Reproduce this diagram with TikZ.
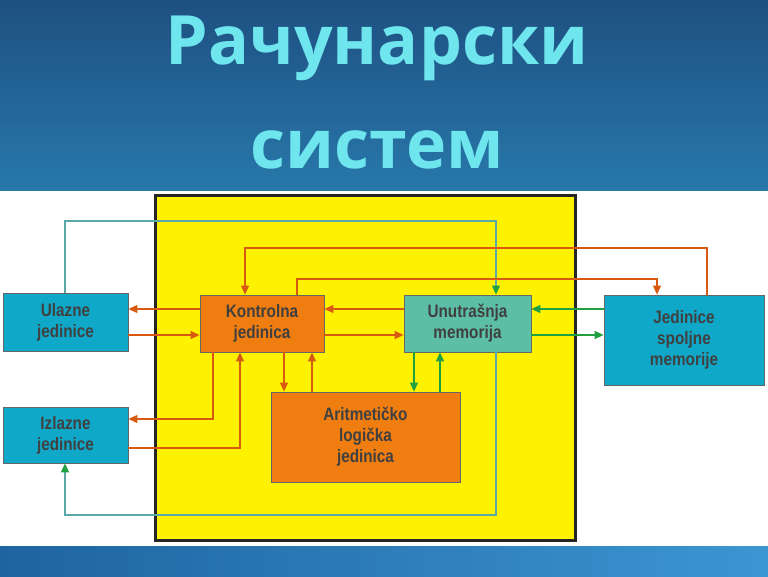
\documentclass[tikz,border=0pt]{standalone}
\usepackage{fontspec}
\setmainfont{Liberation Sans}
\newfontfamily\boxfont[FakeStretch=0.85,UprightFont=*-Bold]{LiberationSans}
\newfontfamily\titlefont{Open Sans}
\usetikzlibrary{arrows.meta}
\definecolor{cbox}{HTML}{10A8C8}
\definecolor{mbox}{HTML}{5CBFA5}
\definecolor{obox}{HTML}{F07D10}
\definecolor{oline}{HTML}{D85A10}
\definecolor{gline}{HTML}{20A040}
\definecolor{tline}{HTML}{5AA8A8}
\definecolor{ttl}{HTML}{6FE6EE}
\definecolor{bgA}{RGB}{30,80,130}
\definecolor{bgB}{RGB}{40,120,170}
\definecolor{bgC}{RGB}{30,100,160}
\definecolor{bgD}{RGB}{60,150,210}
\begin{document}
\begin{tikzpicture}[x=1pt,y=-1pt,
  bx/.style={draw=black!60,line width=0.8pt,font=\boxfont\fontsize{18}{21}\selectfont,text=black!75,align=center,inner sep=0pt},
  oa/.style={draw=oline,line width=1.1pt,-{Triangle[width=8pt,length=9pt]}},
  ga/.style={draw=gline,line width=1.1pt,-{Triangle[width=8pt,length=9pt]}},
  ta/.style={draw=tline,line width=1.1pt,-{Triangle[width=8pt,length=9pt,fill=gline,color=gline]}},
  tt/.style={font=\titlefont\bfseries\fontsize{68}{68}\selectfont,text=ttl}]
\useasboundingbox (0,0) rectangle (768,576);
\shade[top color=bgA,bottom color=bgB] (0,0) rectangle (768,190);
\shade[left color=bgC,right color=bgD] (0,546) rectangle (768,576);
\node[tt] (t1) at (377,48) {Рачунарски};
\node[tt] (t2) at (377,150) {систем};
\draw[fill=yellow,line width=3pt,draw=black!85] (155,195) rectangle (575,540);
\node[bx,fill=cbox,minimum width=125,minimum height=58] (ul) at (65.5,322) {Ulazne\\jedinice};
\node[bx,fill=cbox,minimum width=125,minimum height=56] (iz) at (65.5,435) {Izlazne\\jedinice};
\node[bx,fill=obox,minimum width=124,minimum height=57] (ko) at (262,323.5) {Kontrolna\\jedinica};
\node[bx,fill=mbox,minimum width=127,minimum height=57] (un) at (467.5,323.5) {Unutrašnja\\memorija};
\node[bx,fill=cbox,minimum width=160,minimum height=90] (je) at (684,340) {Jedinice\\spoljne\\memorije};
\node[bx,fill=obox,minimum width=189,minimum height=90] (al) at (365.5,437) {Aritmetičko\\logička\\jedinica};
\draw[ta] (ul.north -| 65,0) -- (65,221) -- (496,221) -- (un.north -| 496,0);
\draw[oa] (je.north -| 707,0) -- (707,248) -- (245,248) -- (ko.north -| 245,0);
\draw[oa] (ko.north -| 297,0) -- (297,279) -- (657,279) -- (je.north -| 657,0);
\draw[oa] (ko.west |- 0,309) -- (ul.east |- 0,309);
\draw[oa] (ul.east |- 0,335) -- (ko.west |- 0,335);
\draw[oa] (un.west |- 0,309) -- (ko.east |- 0,309);
\draw[oa] (ko.east |- 0,335) -- (un.west |- 0,335);
\draw[ga] (je.west |- 0,309) -- (un.east |- 0,309);
\draw[ga] (un.east |- 0,335) -- (je.west |- 0,335);
\draw[oa] (ko.south -| 213,0) -- (213,419) -- (iz.east |- 0,419);
\draw[oa] (iz.east |- 0,448) -- (240,448) -- (ko.south -| 240,0);
\draw[oa] (ko.south -| 284,0) -- (al.north -| 284,0);
\draw[oa] (al.north -| 312,0) -- (ko.south -| 312,0);
\draw[ga] (un.south -| 414,0) -- (al.north -| 414,0);
\draw[ga] (al.north -| 440,0) -- (un.south -| 440,0);
\draw[ta] (un.south -| 496,0) -- (496,515) -- (65,515) -- (iz.south -| 65,0);
\end{tikzpicture}
\end{document}
